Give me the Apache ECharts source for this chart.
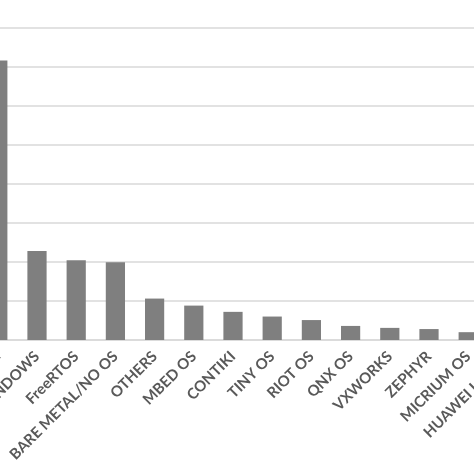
<!DOCTYPE html>
<html>
<head>
<meta charset="utf-8">
<script src="https://cdn.jsdelivr.net/npm/echarts@6/dist/echarts.min.js"></script>
<style>
html,body{margin:0;padding:0;width:474px;height:474px;overflow:hidden;background:#fff;}
#chart{position:absolute;left:-100px;top:0;width:700px;height:474px;}
</style>
</head>
<body>
<div id="chart"></div>
<script>
const categories = ['LINUX','WINDOWS','FreeRTOS','BARE METAL/NO OS','OTHERS','MBED OS','CONTIKI','TINY OS','RIOT OS','QNX OS','VXWORKS','ZEPHYR','MICRIUM OS','HUAWEI LITEOS'];
const usage = [71.5, 22.8, 20.4, 19.9, 10.6, 8.8, 7.2, 6.0, 5.1, 3.6, 3.1, 2.8, 2.0, 1.6];
const yTicks = {min: 0, max: 80, interval: 10};

const chart = echarts.init(document.getElementById('chart'));
chart.setOption({
  animation: false,
  grid: {left: 78.2, width: 548.8, top: 27.3, height: 312.7, containLabel: false, outerBoundsMode: 'none'},
  xAxis: {
    type: 'category',
    data: categories,
    axisLine: {show: true, lineStyle: {color: '#d9d9d9', width: 1.5}},
    axisTick: {show: false},
    axisLabel: {
      interval: 0, rotate: 45, margin: 14,
      fontFamily: 'Lato', fontWeight: 'bold', fontSize: 15, color: '#595959'
    }
  },
  yAxis: {
    type: 'value',
    min: yTicks.min, max: yTicks.max, interval: yTicks.interval,
    axisLine: {show: false}, axisTick: {show: false},
    axisLabel: {show: false},
    splitLine: {lineStyle: {color: '#d9d9d9', width: 1.5}}
  },
  series: [{
    type: 'bar',
    data: usage,
    barWidth: '49%',
    itemStyle: {color: '#7f7f7f'}
  }]
});
</script>
</body>
</html>
